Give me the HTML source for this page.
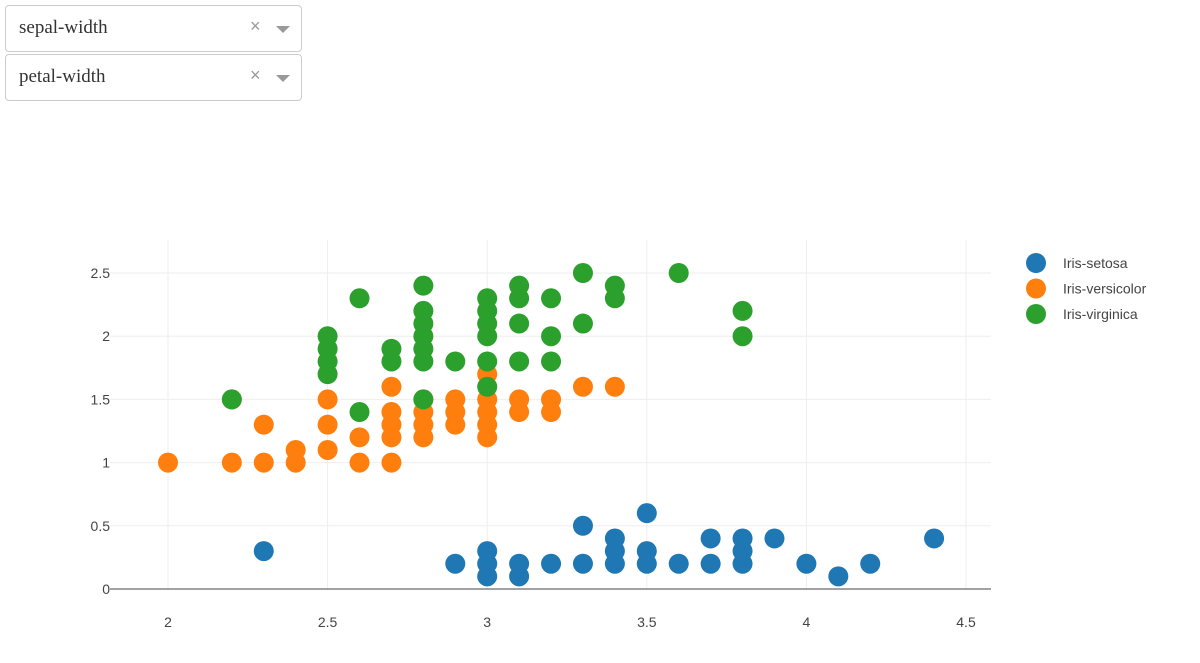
<!DOCTYPE html>
<html><head><meta charset="utf-8"><style>
body{margin:0;width:1200px;height:663px;background:#fff;overflow:hidden;font-family:"Liberation Sans",sans-serif}
.dd{position:absolute;left:5px;width:294px;height:45px;border:1px solid #ccc;border-radius:4px;box-sizing:border-box;font-family:"Liberation Serif",serif;font-size:19px;color:#333}
.dd span.l{position:absolute;left:13px;top:11px}
.dd span.x{position:absolute;left:244px;top:10px;color:#999;font-family:"Liberation Sans",sans-serif;font-size:18px}
.dd span.a{position:absolute;left:270px;top:20px;width:0;height:0;border-left:7px solid transparent;border-right:7px solid transparent;border-top:7px solid #999}
</style></head><body>
<div class="dd" style="top:5px;width:297px;height:47px"><span class="l">sepal-width</span><span class="x">×</span><span class="a"></span></div>
<div class="dd" style="top:54px;width:297px;height:47px"><span class="l">petal-width</span><span class="x">×</span><span class="a"></span></div>
<svg id="c" width="1200" height="663" style="position:absolute;left:0;top:0"></svg>
<script>
const xTicks=[2,2.5,3,3.5,4,4.5];
const yTicks=[0,0.5,1,1.5,2,2.5];
const seriesNames=["Iris-setosa","Iris-versicolor","Iris-virginica"];
const seriesColors=["#1f77b4","#ff7f0e","#2ca02c"];
const setosaX=[2.3,2.9,3.0,3.0,3.0,3.1,3.1,3.2,3.3,3.3,3.4,3.4,3.4,3.5,3.5,3.5,3.6,3.7,3.7,3.8,3.8,3.8,3.9,4.0,4.1,4.2,4.4];
const setosaY=[0.3,0.2,0.1,0.2,0.3,0.1,0.2,0.2,0.2,0.5,0.2,0.3,0.4,0.2,0.3,0.6,0.2,0.2,0.4,0.2,0.3,0.4,0.4,0.2,0.1,0.2,0.4];
const versicolorX=[2.0,2.2,2.2,2.3,2.3,2.4,2.4,2.5,2.5,2.5,2.6,2.6,2.7,2.7,2.7,2.7,2.7,2.8,2.8,2.8,2.8,2.9,2.9,2.9,3.0,3.0,3.0,3.0,3.0,3.1,3.1,3.2,3.2,3.3,3.4];
const versicolorY=[1.0,1.0,1.5,1.0,1.3,1.0,1.1,1.1,1.3,1.5,1.0,1.2,1.0,1.2,1.3,1.4,1.6,1.2,1.3,1.4,1.5,1.3,1.4,1.5,1.2,1.3,1.4,1.5,1.7,1.4,1.5,1.4,1.5,1.6,1.6];
const virginicaX=[2.2,2.5,2.5,2.5,2.5,2.6,2.6,2.7,2.7,2.8,2.8,2.8,2.8,2.8,2.8,2.8,2.9,3.0,3.0,3.0,3.0,3.0,3.0,3.1,3.1,3.1,3.1,3.2,3.2,3.2,3.3,3.3,3.4,3.4,3.6,3.8,3.8];
const virginicaY=[1.5,1.7,1.8,1.9,2.0,1.4,2.3,1.8,1.9,1.5,1.8,1.9,2.0,2.1,2.2,2.4,1.8,1.6,1.8,2.0,2.1,2.2,2.3,1.8,2.1,2.3,2.4,1.8,2.0,2.3,2.1,2.5,2.3,2.4,2.5,2.0,2.2];
const svg=document.getElementById('c');const NS='http://www.w3.org/2000/svg';
const L=110,R=991,T=240,B=589;
const xs=v=>168+(v-2)*319.2;
const ys=v=>589-v*126.4;
function mk(t,a){const e=document.createElementNS(NS,t);for(const k in a)e.setAttribute(k,a[k]);svg.appendChild(e);return e;}
xTicks.forEach(v=>{
 const g=mk('line',{x1:xs(v),x2:xs(v),y1:T,y2:B,stroke:'#eee'});
 
 
 const t=mk('text',{x:xs(v),y:627,'text-anchor':'middle','font-size':14,fill:'#444','font-family':'Liberation Sans,sans-serif'});t.textContent=v;
 
 
});
yTicks.forEach(v=>{
 if(v>0){const g=mk('line',{x1:L,x2:R,y1:ys(v),y2:ys(v),stroke:'#eee'});
 
 }
 const t=mk('text',{x:110,y:ys(v)+5,'text-anchor':'end','font-size':14,fill:'#444','font-family':'Liberation Sans,sans-serif'});t.textContent=v;
 
 
});
const ax=mk('line',{x1:L,x2:R,y1:B,y2:B,stroke:'#444'});


const data=[[setosaX,setosaY],[versicolorX,versicolorY],[virginicaX,virginicaY]];
data.forEach((d,i)=>{d[0].forEach((x,j)=>{
 const c=mk('circle',{cx:xs(x),cy:ys(d[1][j]),r:10,fill:seriesColors[i]});
 
 
});
 const y=263+i*25.5;
 const lc=mk('circle',{cx:1036,cy:y,r:10,fill:seriesColors[i]});
 
 
 const lt=mk('text',{x:1063,y:y+5,'font-size':14,fill:'#444','font-family':'Liberation Sans,sans-serif'});lt.textContent=seriesNames[i];
 
 
});
</script>
</body></html>
